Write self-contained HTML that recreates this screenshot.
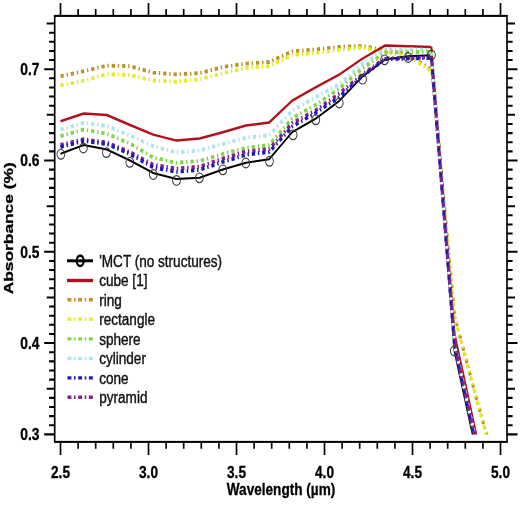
<!DOCTYPE html><html><head><meta charset="utf-8"><style>html,body{margin:0;padding:0;background:#fff;}svg{display:block;}text{font-family:"Liberation Sans",Arial,sans-serif;}text.b{font-weight:bold;stroke:#000;stroke-width:0.3px;}</style></head><body>
<svg width="520" height="510" viewBox="0 0 520 510">
<rect x="0" y="0" width="520" height="510" fill="#fff"/>
<g transform="scale(1,1.2400)">
<defs><clipPath id="cp"><rect x="55.5" y="13.55" width="450.6" height="336.94"/></clipPath></defs>
<g clip-path="url(#cp)" fill="none" stroke-linejoin="miter" stroke-linecap="butt">
<polyline points="60.50,61.45 83.68,57.42 106.86,52.90 130.04,53.39 153.22,58.55 176.40,59.92 199.58,59.03 222.76,54.03 245.94,51.29 269.12,50.00 292.30,41.53 315.48,39.92 338.66,37.90 361.84,37.10 385.02,40.16 408.20,43.95 431.90,56.45" stroke="#bc922c" stroke-width="3.10" stroke-dasharray="3.3 2.8 1.4 2.9"/>
<polyline points="60.50,68.95 83.68,65.00 106.86,59.84 130.04,60.48 153.22,65.00 176.40,65.81 199.58,64.03 222.76,59.03 245.94,54.68 269.12,53.39 292.30,44.35 315.48,42.74 338.66,40.32 361.84,38.31 385.02,41.94 408.20,45.16 432.00,57.66" stroke="#e4ec28" stroke-width="3.10" stroke-dasharray="3.3 2.8 1.4 2.9"/>
<polyline points="431.90,56.45 454.60,254.84 477.50,324.60 500.90,391.13" stroke="#bc922c" stroke-width="3.10" stroke-dasharray="3.3 2.8 1.4 2.9" stroke-dashoffset="2.90"/>
<polyline points="432.00,57.66 454.60,255.65 477.70,325.40 500.90,391.94" stroke="#e4ec28" stroke-width="3.10" stroke-dasharray="3.3 2.8 1.4 2.9"/>
<polyline points="60.50,97.74 83.68,91.53 106.86,92.74 130.04,100.81 153.22,108.55 176.40,113.39 199.58,111.61 222.76,106.61 245.94,101.29 269.12,98.87 292.30,81.05 315.48,70.56 338.66,60.48 361.84,47.58 385.02,36.77 408.20,37.26 431.38,37.90" stroke="#b3101c" stroke-width="2.00"/>
<polyline points="60.50,104.52 83.68,99.19 106.86,101.61 130.04,109.27 153.22,117.90 176.40,122.90 199.58,121.37 222.76,116.13 245.94,111.13 269.12,109.03 292.30,89.11 315.48,78.63 338.66,68.15 361.84,52.02 385.02,39.92 408.20,39.76 431.38,40.32" stroke="#aae6f0" stroke-width="3.10" stroke-dasharray="3.3 2.8 1.4 2.9"/>
<polyline points="60.50,109.76 83.68,104.44 106.86,107.90 130.04,115.73 153.22,127.02 176.40,131.29 199.58,129.84 222.76,124.19 245.94,119.19 269.12,116.94 292.30,95.16 315.48,84.68 338.66,71.77 361.84,55.65 385.02,42.34 408.20,41.94 431.38,41.94" stroke="#84d646" stroke-width="3.10" stroke-dasharray="3.3 2.8 1.4 2.9"/>
<polyline points="60.50,124.03 83.68,116.94 106.86,120.56 130.04,129.44 153.22,139.52 176.40,144.35 199.58,143.39 222.76,136.69 245.94,131.21 269.12,128.47 292.30,106.45 315.48,95.81 338.66,81.85 361.84,62.18 385.02,48.06 408.20,45.32 431.38,44.52" stroke="#000000" stroke-width="1.65"/>
<polyline points="60.50,116.94 83.68,112.34 106.86,114.92 130.04,122.74 153.22,132.90 176.40,135.97 199.58,134.35 222.76,127.82 245.94,122.18 269.12,120.16 292.30,99.19 315.48,89.11 338.66,75.81 361.84,60.32 385.02,47.10 408.20,46.77 431.38,46.13" stroke="#84208a" stroke-width="3.10" stroke-dasharray="3.3 2.8 1.4 2.9"/>
<polyline points="60.50,118.55 83.68,113.71 106.86,116.13 130.04,124.19 153.22,135.08 176.40,138.55 199.58,136.94 222.76,130.65 245.94,124.84 269.12,122.58 292.30,102.02 315.48,91.13 338.66,78.63 361.84,61.69 385.02,47.74 408.20,47.26 431.38,46.61" stroke="#1c1cb4" stroke-width="3.10" stroke-dasharray="3.3 2.8 1.4 2.9"/>
<polyline points="431.38,44.52 454.60,283.87 472.50,350.00 475.12,359.68" stroke="#000000" stroke-width="1.65"/>
<polyline points="431.38,37.90 454.60,269.35 476.20,350.00 478.79,359.68" stroke="#b3101c" stroke-width="2.00"/>
<polyline points="431.38,41.94 454.60,279.03 474.00,350.00 476.65,359.68" stroke="#84d646" stroke-width="3.10" stroke-dasharray="3.3 2.8 1.4 2.9"/>
<polyline points="431.38,40.32 454.60,277.42 474.50,350.00 477.15,359.68" stroke="#aae6f0" stroke-width="3.10" stroke-dasharray="3.3 2.8 1.4 2.9" stroke-dashoffset="3.40"/>
<polyline points="431.38,46.61 454.60,279.84 473.50,350.00 476.11,359.68" stroke="#1c1cb4" stroke-width="3.10" stroke-dasharray="3.3 2.8 1.4 2.9"/>
<polyline points="431.38,46.13 454.60,278.23 474.30,350.00 476.96,359.68" stroke="#84208a" stroke-width="3.10" stroke-dasharray="3.3 2.8 1.4 2.9" stroke-dashoffset="7.10"/>
<polyline points="431.38,46.13 454.60,278.23 474.30,350.00 476.96,359.68" stroke="#eef8fa" stroke-width="2.79" stroke-dasharray="2.1 8.3" stroke-dashoffset="3.00"/>
<circle cx="60.90" cy="124.44" r="3.9" stroke="#3a3a3a" stroke-width="0.95" fill="none"/>
<circle cx="83.40" cy="119.35" r="3.9" stroke="#3a3a3a" stroke-width="0.95" fill="none"/>
<circle cx="106.40" cy="123.06" r="3.9" stroke="#3a3a3a" stroke-width="0.95" fill="none"/>
<circle cx="129.80" cy="130.89" r="3.9" stroke="#3a3a3a" stroke-width="0.95" fill="none"/>
<circle cx="153.30" cy="140.73" r="3.9" stroke="#3a3a3a" stroke-width="0.95" fill="none"/>
<circle cx="176.50" cy="145.48" r="3.9" stroke="#3a3a3a" stroke-width="0.95" fill="none"/>
<circle cx="199.40" cy="143.39" r="3.9" stroke="#3a3a3a" stroke-width="0.95" fill="none"/>
<circle cx="222.80" cy="136.94" r="3.9" stroke="#3a3a3a" stroke-width="0.95" fill="none"/>
<circle cx="245.80" cy="131.45" r="3.9" stroke="#3a3a3a" stroke-width="0.95" fill="none"/>
<circle cx="269.50" cy="130.08" r="3.9" stroke="#3a3a3a" stroke-width="0.95" fill="none"/>
<circle cx="293.10" cy="108.71" r="3.9" stroke="#3a3a3a" stroke-width="0.95" fill="none"/>
<circle cx="315.80" cy="96.61" r="3.9" stroke="#3a3a3a" stroke-width="0.95" fill="none"/>
<circle cx="339.20" cy="83.06" r="3.9" stroke="#3a3a3a" stroke-width="0.95" fill="none"/>
<circle cx="362.50" cy="63.87" r="3.9" stroke="#3a3a3a" stroke-width="0.95" fill="none"/>
<circle cx="384.60" cy="48.23" r="3.9" stroke="#3a3a3a" stroke-width="0.95" fill="none"/>
<circle cx="408.20" cy="46.37" r="3.9" stroke="#3a3a3a" stroke-width="0.95" fill="none"/>
<circle cx="431.50" cy="44.35" r="3.9" stroke="#3a3a3a" stroke-width="0.95" fill="none"/>
<circle cx="454.30" cy="283.06" r="3.9" stroke="#3a3a3a" stroke-width="0.95" fill="none"/>
</g>
<rect x="54.7" y="12.82" width="452.3" height="343.55" fill="none" stroke="#000" stroke-width="1.65"/>
<path d="M60.50 12.82v-10.50M60.50 356.37v10.50M78.10 12.82v-5.60M78.10 356.37v5.60M95.70 12.82v-5.60M95.70 356.37v5.60M113.30 12.82v-5.60M113.30 356.37v5.60M130.90 12.82v-5.60M130.90 356.37v5.60M148.50 12.82v-10.50M148.50 356.37v10.50M166.10 12.82v-5.60M166.10 356.37v5.60M183.70 12.82v-5.60M183.70 356.37v5.60M201.30 12.82v-5.60M201.30 356.37v5.60M218.90 12.82v-5.60M218.90 356.37v5.60M236.50 12.82v-10.50M236.50 356.37v10.50M254.10 12.82v-5.60M254.10 356.37v5.60M271.70 12.82v-5.60M271.70 356.37v5.60M289.30 12.82v-5.60M289.30 356.37v5.60M306.90 12.82v-5.60M306.90 356.37v5.60M324.50 12.82v-10.50M324.50 356.37v10.50M342.10 12.82v-5.60M342.10 356.37v5.60M359.70 12.82v-5.60M359.70 356.37v5.60M377.30 12.82v-5.60M377.30 356.37v5.60M394.90 12.82v-5.60M394.90 356.37v5.60M412.50 12.82v-10.50M412.50 356.37v10.50M430.10 12.82v-5.60M430.10 356.37v5.60M447.70 12.82v-5.60M447.70 356.37v5.60M465.30 12.82v-5.60M465.30 356.37v5.60M482.90 12.82v-5.60M482.90 356.37v5.60M500.50 12.82v-10.50M500.50 356.37v10.50M54.70 350.32h-10.50M507.00 350.32h10.50M54.70 342.96h-5.60M507.00 342.96h5.60M54.70 335.60h-5.60M507.00 335.60h5.60M54.70 328.23h-5.60M507.00 328.23h5.60M54.70 320.87h-5.60M507.00 320.87h5.60M54.70 313.51h-8.00M507.00 313.51h8.00M54.70 306.15h-5.60M507.00 306.15h5.60M54.70 298.78h-5.60M507.00 298.78h5.60M54.70 291.42h-5.60M507.00 291.42h5.60M54.70 284.06h-5.60M507.00 284.06h5.60M54.70 276.69h-10.50M507.00 276.69h10.50M54.70 269.33h-5.60M507.00 269.33h5.60M54.70 261.97h-5.60M507.00 261.97h5.60M54.70 254.60h-5.60M507.00 254.60h5.60M54.70 247.24h-5.60M507.00 247.24h5.60M54.70 239.88h-8.00M507.00 239.88h8.00M54.70 232.52h-5.60M507.00 232.52h5.60M54.70 225.15h-5.60M507.00 225.15h5.60M54.70 217.79h-5.60M507.00 217.79h5.60M54.70 210.43h-5.60M507.00 210.43h5.60M54.70 203.06h-10.50M507.00 203.06h10.50M54.70 195.70h-5.60M507.00 195.70h5.60M54.70 188.34h-5.60M507.00 188.34h5.60M54.70 180.98h-5.60M507.00 180.98h5.60M54.70 173.61h-5.60M507.00 173.61h5.60M54.70 166.25h-8.00M507.00 166.25h8.00M54.70 158.89h-5.60M507.00 158.89h5.60M54.70 151.52h-5.60M507.00 151.52h5.60M54.70 144.16h-5.60M507.00 144.16h5.60M54.70 136.80h-5.60M507.00 136.80h5.60M54.70 129.44h-10.50M507.00 129.44h10.50M54.70 122.07h-5.60M507.00 122.07h5.60M54.70 114.71h-5.60M507.00 114.71h5.60M54.70 107.35h-5.60M507.00 107.35h5.60M54.70 99.98h-5.60M507.00 99.98h5.60M54.70 92.62h-8.00M507.00 92.62h8.00M54.70 85.26h-5.60M507.00 85.26h5.60M54.70 77.90h-5.60M507.00 77.90h5.60M54.70 70.53h-5.60M507.00 70.53h5.60M54.70 63.17h-5.60M507.00 63.17h5.60M54.70 55.81h-10.50M507.00 55.81h10.50M54.70 48.44h-5.60M507.00 48.44h5.60M54.70 41.08h-5.60M507.00 41.08h5.60M54.70 33.72h-5.60M507.00 33.72h5.60M54.70 26.35h-5.60M507.00 26.35h5.60M54.70 18.99h-8.00M507.00 18.99h8.00" stroke="#000" stroke-width="1.65" fill="none"/>
<path d="M67 210.32H93" stroke="#000" stroke-width="2.4"/>
<ellipse cx="80.2" cy="210.32" rx="3.5" ry="4.2" stroke="#000" stroke-width="2.1" fill="none"/>
<path d="M67 226.21H93" stroke="#b3101c" stroke-width="2.7"/>
<path d="M67.5 241.77H93.5" stroke="#bc922c" stroke-width="2.7" stroke-dasharray="3.9 2.6 1.6 2.6"/>
<path d="M67.5 257.42H93.5" stroke="#e4ec28" stroke-width="2.7" stroke-dasharray="3.9 2.6 1.6 2.6"/>
<path d="M67.5 273.23H93.5" stroke="#84d646" stroke-width="2.7" stroke-dasharray="3.9 2.6 1.6 2.6"/>
<path d="M67.5 289.11H93.5" stroke="#aae6f0" stroke-width="2.7" stroke-dasharray="3.9 2.6 1.6 2.6"/>
<path d="M67.5 304.68H93.5" stroke="#1c1cb4" stroke-width="2.7" stroke-dasharray="3.9 2.6 1.6 2.6"/>
<path d="M67.5 320.40H93.5" stroke="#84208a" stroke-width="2.7" stroke-dasharray="3.9 2.6 1.6 2.6"/>
</g>
<text x="39.5" y="75.0" text-anchor="end" font-size="16.6" class="b" textLength="19.2" lengthAdjust="spacingAndGlyphs">0.7</text>
<text x="39.5" y="166.3" text-anchor="end" font-size="16.6" class="b" textLength="19.2" lengthAdjust="spacingAndGlyphs">0.6</text>
<text x="39.5" y="257.6" text-anchor="end" font-size="16.6" class="b" textLength="19.2" lengthAdjust="spacingAndGlyphs">0.5</text>
<text x="39.5" y="348.9" text-anchor="end" font-size="16.6" class="b" textLength="19.2" lengthAdjust="spacingAndGlyphs">0.4</text>
<text x="39.5" y="440.2" text-anchor="end" font-size="16.6" class="b" textLength="19.2" lengthAdjust="spacingAndGlyphs">0.3</text>
<text x="60.5" y="478.4" text-anchor="middle" font-size="16.6" class="b" textLength="19.0" lengthAdjust="spacingAndGlyphs">2.5</text>
<text x="148.5" y="478.4" text-anchor="middle" font-size="16.6" class="b" textLength="19.0" lengthAdjust="spacingAndGlyphs">3.0</text>
<text x="236.5" y="478.4" text-anchor="middle" font-size="16.6" class="b" textLength="19.0" lengthAdjust="spacingAndGlyphs">3.5</text>
<text x="324.5" y="478.4" text-anchor="middle" font-size="16.6" class="b" textLength="19.0" lengthAdjust="spacingAndGlyphs">4.0</text>
<text x="412.5" y="478.4" text-anchor="middle" font-size="16.6" class="b" textLength="19.0" lengthAdjust="spacingAndGlyphs">4.5</text>
<text x="500.5" y="478.4" text-anchor="middle" font-size="16.6" class="b" textLength="19.0" lengthAdjust="spacingAndGlyphs">5.0</text>
<text x="226.8" y="495.2" font-size="16" class="b" textLength="108.5" lengthAdjust="spacingAndGlyphs">Wavelength (µm)</text>
<text transform="translate(13.2,294.3) rotate(-90)" x="0" y="0" font-size="13.6" class="b" textLength="132" lengthAdjust="spacingAndGlyphs">Absorbance (%)</text>
<text transform="translate(99.2,266.5) scale(0.87,1)" font-size="15.6" fill="#111" stroke="#111" stroke-width="0.4">'MCT (no structures)</text>
<text transform="translate(99.2,285.7) scale(0.87,1)" font-size="15.6" fill="#111" stroke="#111" stroke-width="0.4">cube [1]</text>
<text transform="translate(99.2,305.5) scale(0.87,1)" font-size="15.6" fill="#111" stroke="#111" stroke-width="0.4">ring</text>
<text transform="translate(99.2,324.9) scale(0.87,1)" font-size="15.6" fill="#111" stroke="#111" stroke-width="0.4">rectangle</text>
<text transform="translate(99.2,344.5) scale(0.87,1)" font-size="15.6" fill="#111" stroke="#111" stroke-width="0.4">sphere</text>
<text transform="translate(99.2,364.2) scale(0.87,1)" font-size="15.6" fill="#111" stroke="#111" stroke-width="0.4">cylinder</text>
<text transform="translate(99.2,383.5) scale(0.87,1)" font-size="15.6" fill="#111" stroke="#111" stroke-width="0.4">cone</text>
<text transform="translate(99.2,403.0) scale(0.87,1)" font-size="15.6" fill="#111" stroke="#111" stroke-width="0.4">pyramid</text>
</svg></body></html>
